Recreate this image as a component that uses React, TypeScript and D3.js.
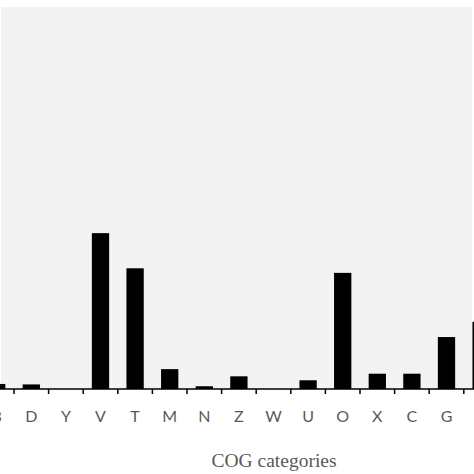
import React from 'react';
import * as d3 from 'd3';

// COG category order (chart is cropped: B and E only partly visible)
const categories = ['B', 'D', 'Y', 'V', 'T', 'M', 'N', 'Z', 'W', 'U', 'O', 'X', 'C', 'G', 'E'];
const values = [0.33, 0.3, 0, 10.2, 7.9, 1.3, 0.18, 0.83, 0, 0.57, 7.6, 1.0, 1.0, 3.4, 4.4];
const yMax = 25;

const W = 474;
const H = 474;
const baseY = 389;
const topY = 7;
const step = 34.6;

const App: React.FC = () => {
  const x = d3.scaleBand<string>()
    .domain(categories)
    .range([14 - step, 14 - step + step * categories.length])
    .paddingInner(0.5)
    .paddingOuter(0.25);

  // ticks sit on band boundaries
  const bandStep = x.step();
  const x0 = x.range()[0];
  const tickXs = d3.range(categories.length + 1).map(i => x0 + i * bandStep);

  const y = d3.scaleLinear().domain([0, yMax]).range([baseY, topY]);

  return (
    <svg width={W} height={H} style={{ position: 'absolute', left: 0, top: 0, background: '#fff' }}>
      <rect x={1} y={topY} width={471} height={baseY - topY} fill="#f3f3f3" />
      <g>
        {categories.map((c, i) => (
          <rect
            key={c}
            x={x(c)}
            y={y(values[i])}
            width={x.bandwidth()}
            height={baseY - y(values[i])}
            fill="#000"
          />
        ))}
      </g>
      <line x1={0} x2={W} y1={baseY} y2={baseY} stroke="#000" strokeWidth={1.5} />
      {tickXs.map((tx, i) => (
        <line key={i} x1={tx} x2={tx} y1={baseY} y2={baseY + 5} stroke="#000" strokeWidth={1.5} />
      ))}
      <g fontFamily="Lato, 'Open Sans', sans-serif" fontSize={16} fill="#595959" textAnchor="middle">
        {categories.map(c => (
          <text key={c} x={(x(c) || 0) + x.bandwidth() / 2} y={421.5}>{c}</text>
        ))}
      </g>
      <text x={274} y={467} textAnchor="middle" fontFamily="'Liberation Serif', serif" fontSize={19.5} fill="#595959">
        COG categories
      </text>
    </svg>
  );
};

export default App;
